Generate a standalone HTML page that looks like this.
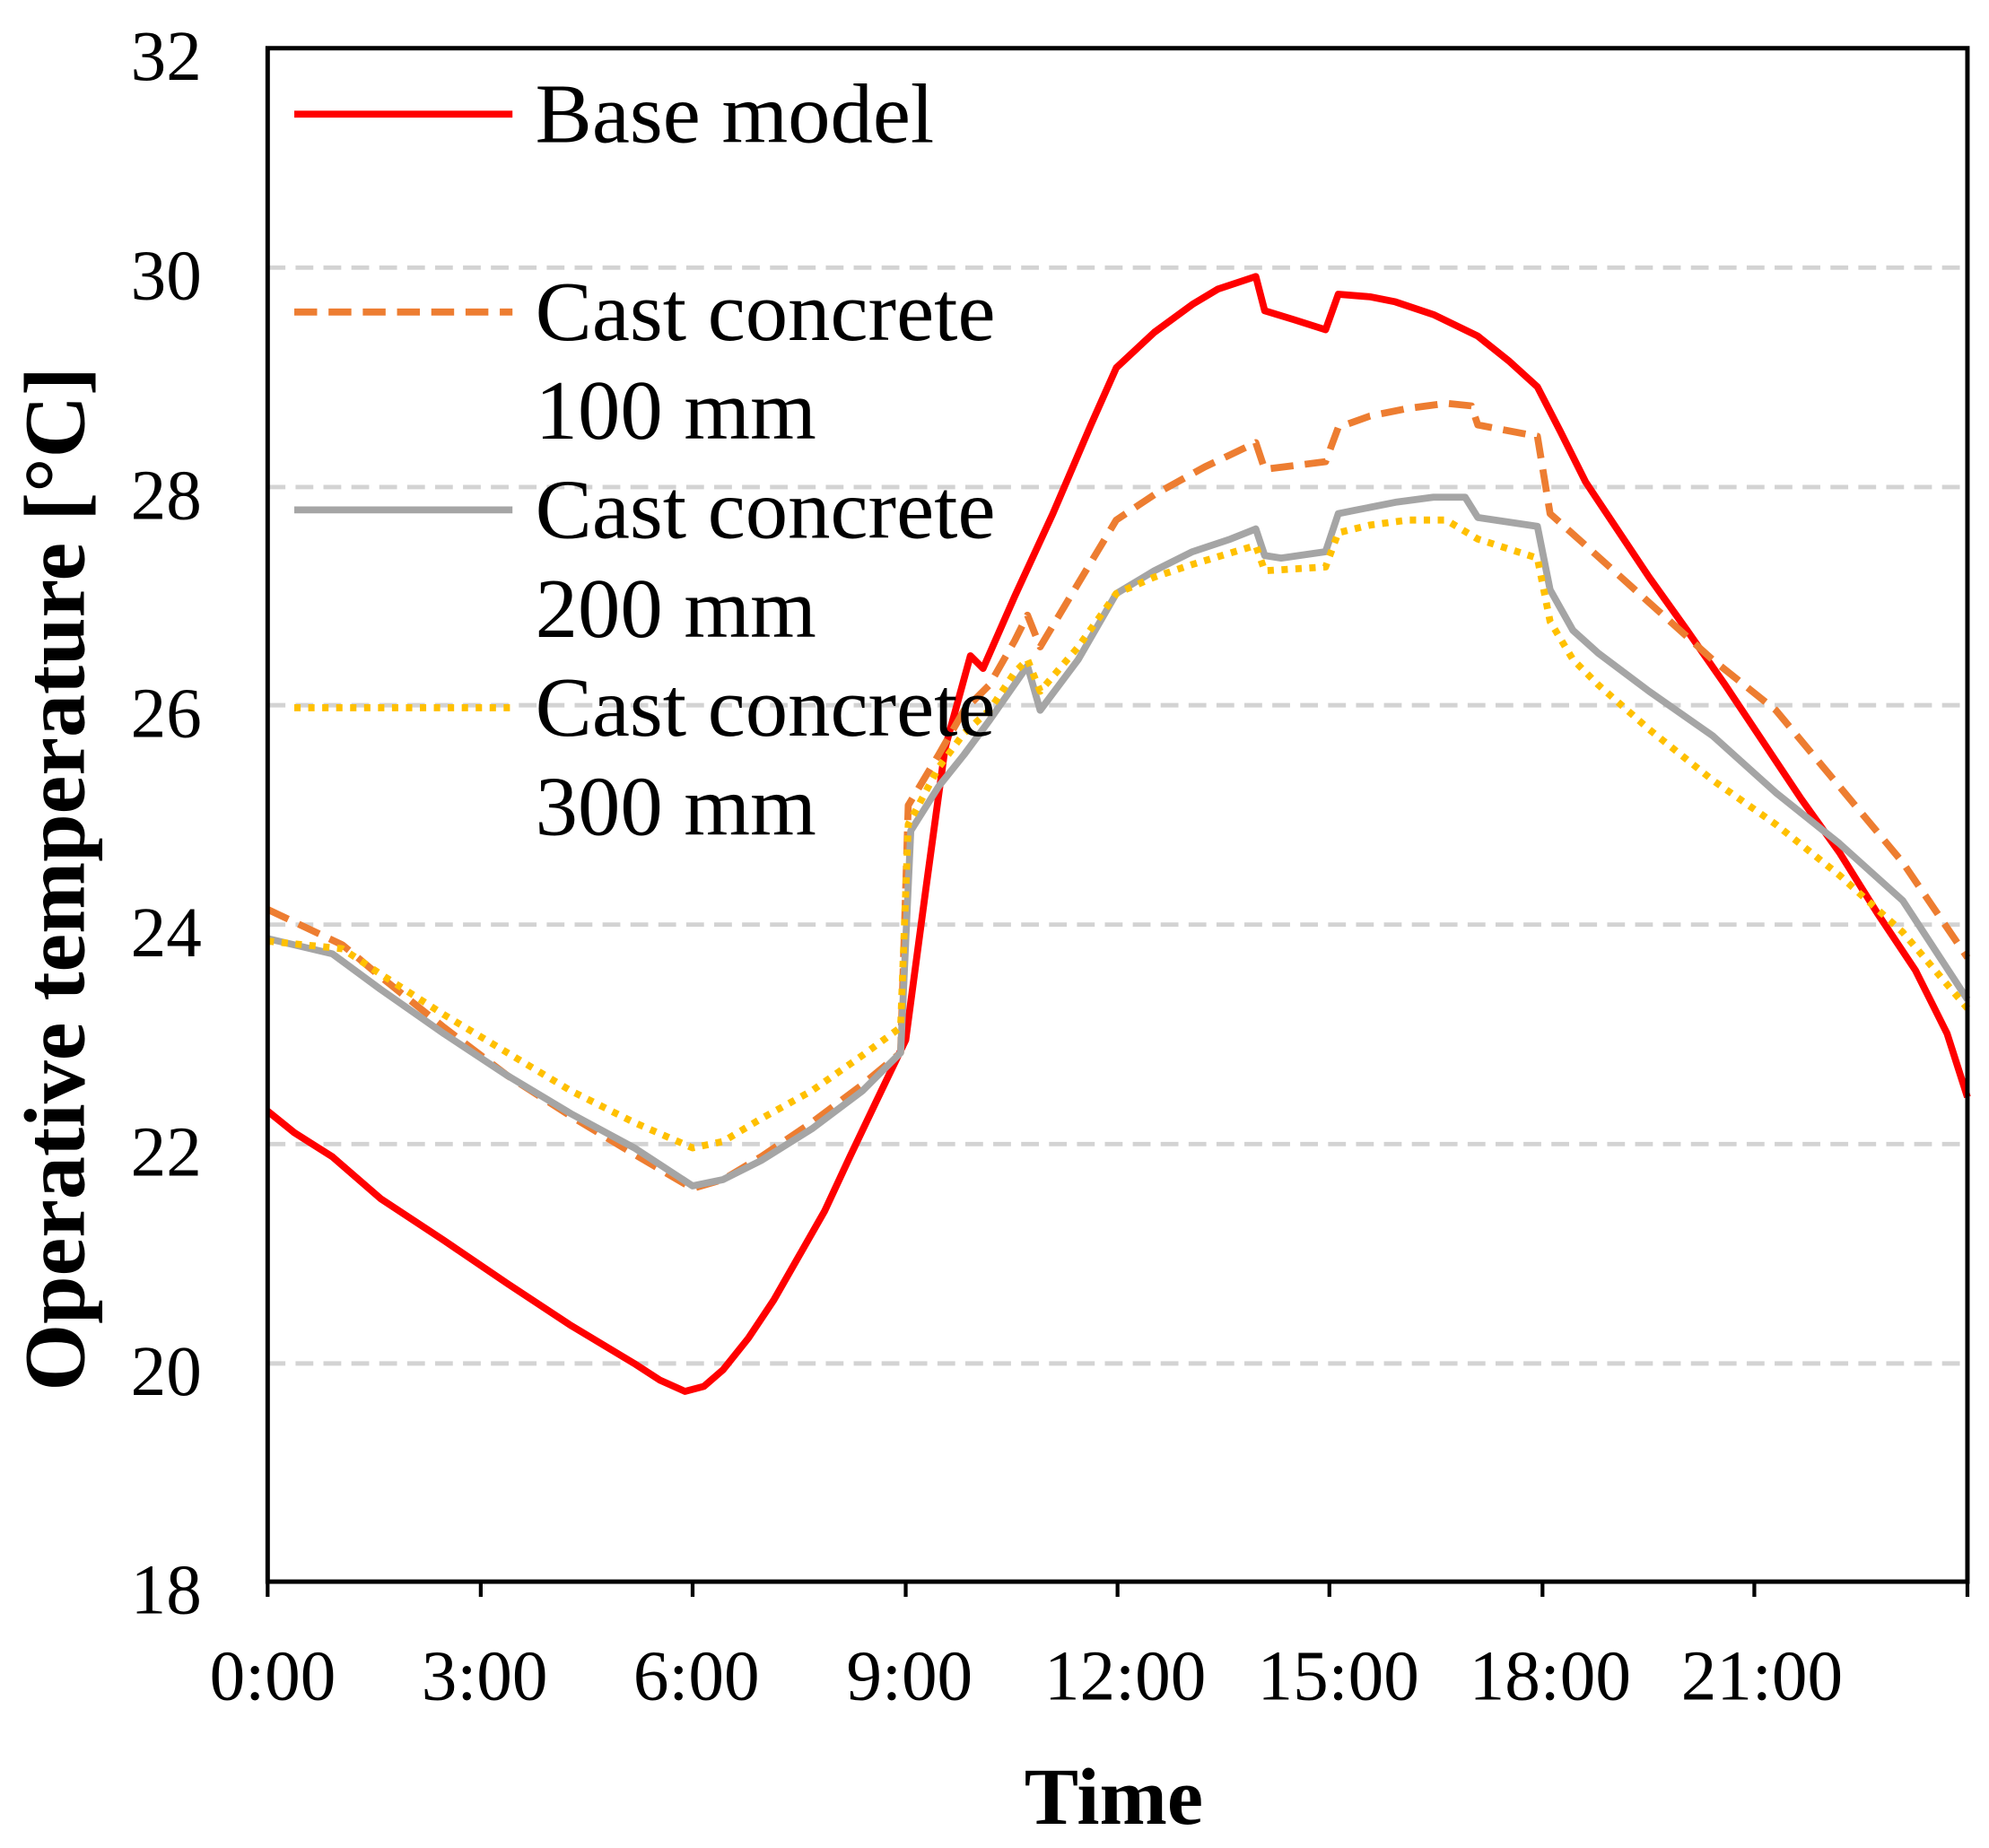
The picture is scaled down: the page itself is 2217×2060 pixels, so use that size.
<!DOCTYPE html>
<html><head><meta charset="utf-8"><style>html,body{margin:0;padding:0;background:#fff}svg{display:block}</style></head>
<body>
<svg width="2217" height="2060" viewBox="0 0 1568 1457" preserveAspectRatio="none" xmlns="http://www.w3.org/2000/svg" font-family="'Liberation Serif', serif">
<g stroke="#d3d3d3" stroke-width="3.5" stroke-dasharray="14,8">
<line x1="211" x2="1551" y1="211" y2="211"/><line x1="211" x2="1551" y1="384" y2="384"/><line x1="211" x2="1551" y1="556" y2="556"/><line x1="211" x2="1551" y1="729" y2="729"/><line x1="211" x2="1551" y1="902" y2="902"/><line x1="211" x2="1551" y1="1075" y2="1075"/>
</g>
<g fill="none" stroke-linejoin="round" stroke-width="5.5">
<polyline stroke="#ff0000" points="211,876 232,893 262,912 300,945 350,978 400,1012 450,1045 500,1075 520,1088 540,1097 555,1093 570,1080 590,1055 610,1025 630,990 650,955 670,912 690,870 714,820 730,700 745,590 765,517 775,527 800,470 830,405 860,335 880,290 910,262 940,240 960,228 990,218 997,245 1020,252 1045,260 1055,232 1080,234 1100,238 1130,248 1165,265 1190,285 1212,305 1230,340 1250,380 1270,410 1300,455 1330,497 1360,540 1390,585 1420,630 1450,672 1480,720 1510,765 1535,815 1551,865"/>
<polyline stroke="#ed7d31" stroke-dasharray="18,9" points="211,717 270,745 300,770 350,810 400,848 450,880 500,910 546,937 570,930 600,912 640,885 680,855 710,830 716,635 740,595 760,560 780,540 800,505 810,485 820,510 850,460 880,410 910,390 950,368 990,349 997,370 1045,364 1055,337 1080,328 1110,322 1140,318 1160,320 1165,335 1212,344 1222,405 1250,430 1300,475 1350,520 1400,560 1450,620 1500,680 1551,755"/>
<polyline stroke="#a5a5a5" points="211,740 262,752 300,780 350,815 400,848 450,878 500,905 546,935 570,930 600,915 640,890 680,860 710,830 718,655 740,620 760,595 780,568 810,525 820,560 850,520 880,468 910,450 940,435 970,425 990,417 997,438 1010,440 1045,435 1055,405 1070,402 1100,396 1130,392 1155,392 1165,408 1212,415 1222,465 1240,497 1260,515 1300,545 1350,580 1400,625 1450,665 1500,710 1551,788"/>
<polyline stroke="#ffc000" stroke-dasharray="5,6" points="211,742 270,748 300,768 350,800 400,830 450,860 500,885 546,905 570,900 600,882 640,860 680,832 710,810 716,650 740,605 760,578 780,560 800,530 810,520 820,545 850,510 880,468 910,455 940,445 990,430 997,450 1045,447 1055,420 1080,414 1110,410 1140,410 1165,425 1212,440 1222,490 1240,520 1260,540 1300,575 1350,615 1400,650 1450,690 1500,735 1551,795"/>
</g>
<rect x="211" y="38" width="1340" height="1209" fill="none" stroke="#000" stroke-width="3.5"/>
<g stroke="#000" stroke-width="3"><line x1="211" x2="211" y1="1247" y2="1259"/><line x1="379" x2="379" y1="1247" y2="1259"/><line x1="546" x2="546" y1="1247" y2="1259"/><line x1="714" x2="714" y1="1247" y2="1259"/><line x1="881" x2="881" y1="1247" y2="1259"/><line x1="1048" x2="1048" y1="1247" y2="1259"/><line x1="1216" x2="1216" y1="1247" y2="1259"/><line x1="1383" x2="1383" y1="1247" y2="1259"/><line x1="1551" x2="1551" y1="1247" y2="1259"/></g>
<g font-size="56" text-anchor="end"><text x="159" y="63">32</text><text x="159" y="236">30</text><text x="159" y="409">28</text><text x="159" y="581">26</text><text x="159" y="754">24</text><text x="159" y="927">22</text><text x="159" y="1100">20</text><text x="159" y="1272">18</text></g>
<g font-size="56" text-anchor="middle"><text x="215" y="1340">0:00</text><text x="382" y="1340">3:00</text><text x="549" y="1340">6:00</text><text x="717" y="1340">9:00</text><text x="887" y="1340">12:00</text><text x="1055" y="1340">15:00</text><text x="1222" y="1340">18:00</text><text x="1389" y="1340">21:00</text></g>
<text x="878" y="1438" font-size="64" font-weight="bold" text-anchor="middle">Time</text>
<text transform="translate(66,693) rotate(-90)" font-size="68" font-weight="bold" text-anchor="middle">Operative temperature [°C]</text>
<g stroke-width="5.5"><line x1="232" x2="404" y1="90" y2="90" stroke="#ff0000"/><line x1="232" x2="404" y1="246" y2="246" stroke="#ed7d31" stroke-dasharray="18,9"/><line x1="232" x2="404" y1="402" y2="402" stroke="#a5a5a5"/><line x1="232" x2="404" y1="558" y2="558" stroke="#ffc000" stroke-dasharray="5,6"/></g>
<g font-size="67"><text x="422" y="112">Base model</text><text x="422" y="268">Cast concrete</text><text x="422" y="346">100 mm</text><text x="422" y="424">Cast concrete</text><text x="422" y="502">200 mm</text><text x="422" y="580">Cast concrete</text><text x="422" y="658">300 mm</text></g>
</svg>
</body></html>
